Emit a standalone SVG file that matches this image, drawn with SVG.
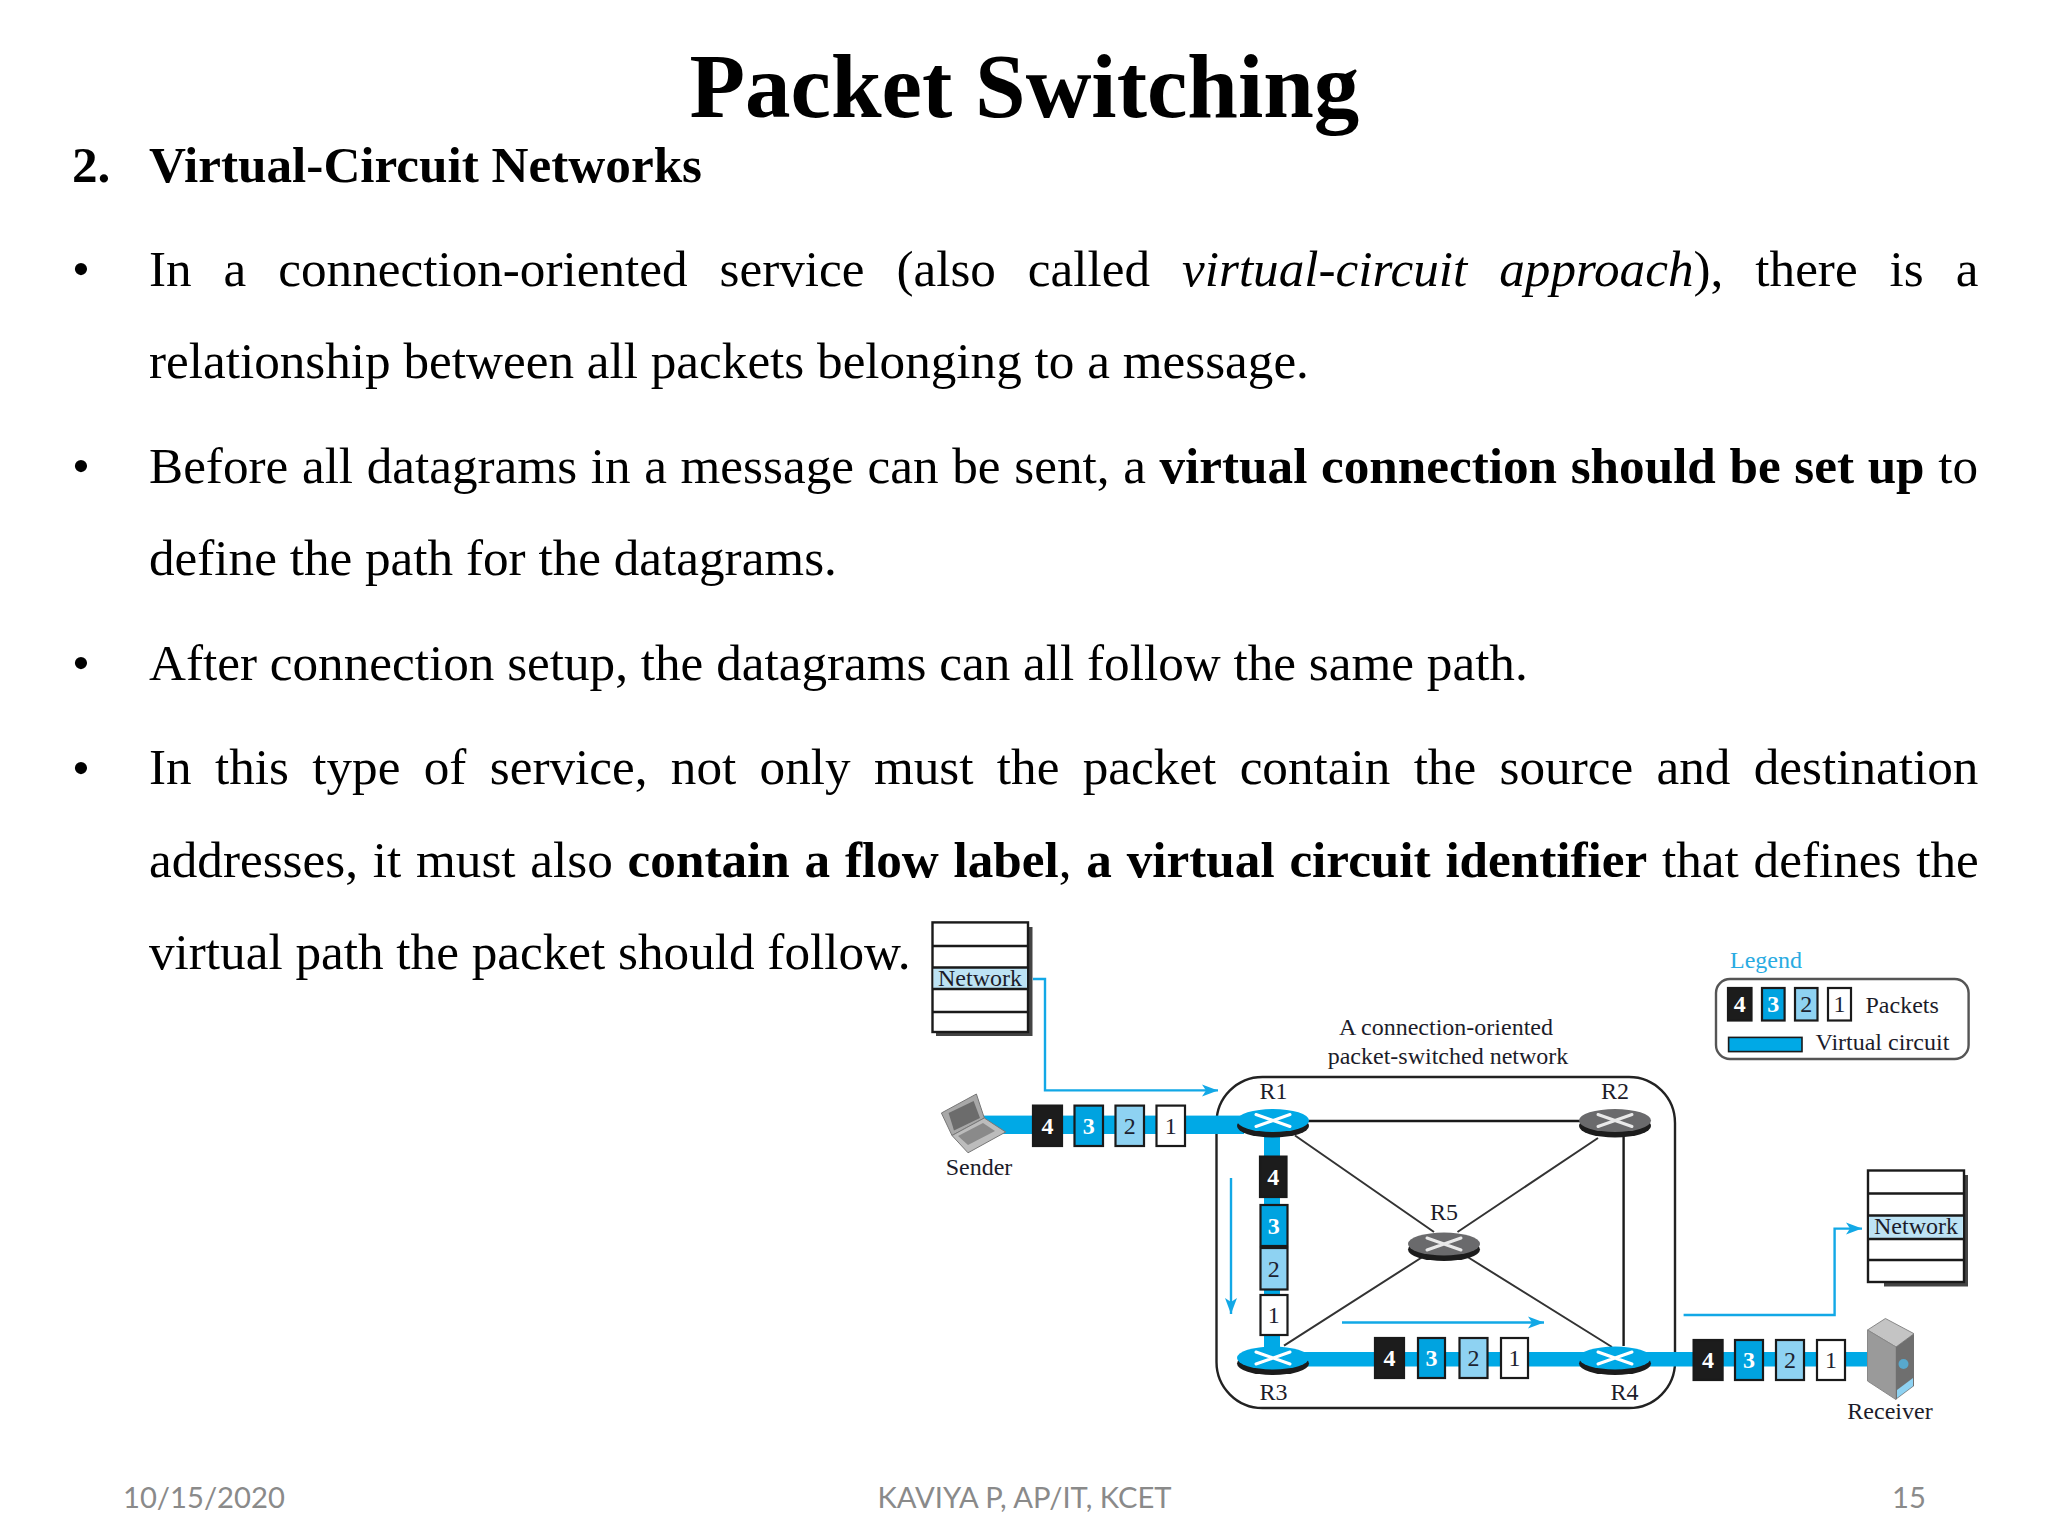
<svg xmlns="http://www.w3.org/2000/svg" width="2048" height="1536" viewBox="0 0 2048 1536">
<style>
text{font-family:"Liberation Serif","Times New Roman",serif;fill:#000}
.b{font-size:51.2px}
.bold{font-weight:bold}
.it{font-style:italic}
.foot{font-family:Lato,"Liberation Sans",sans-serif;font-size:29.2px;fill:#8a8a8a}
.lbl{font-size:24px;fill:#1c1c2a}
.c{text-anchor:middle}
.thin{stroke:#1a1a1a;stroke-width:2.4;fill:none}
.diag{stroke:#333;stroke-width:2;fill:none}
.vc{fill:#00a9e6}
.flow{stroke:#12a8e6;stroke-width:2.4;fill:none}
.pk{stroke:#1a1a1a;stroke-width:2.2}
.p4{fill:#1c1c1c}.p3{fill:#00a3e0}.p2{fill:#8ed2f2}.p1{fill:#fff}
.t4,.t3{fill:#fff;font-weight:bold;font-size:24px;text-anchor:middle}
.t2,.t1{fill:#1c2230;font-size:24px;text-anchor:middle}
.shadow{fill:#444}
.tab{fill:#fff;stroke:#1a1a1a;stroke-width:2.4}
.x{stroke:#fff;stroke-width:3;stroke-linecap:round;fill:none}
</style>
<defs>
<marker id="arr" markerUnits="userSpaceOnUse" markerWidth="18" markerHeight="14" refX="16" refY="7" orient="auto"><path d="M0,1 L16,7 L0,13 L4,7 Z" fill="#12a8e6"/></marker>
<g id="rb"><ellipse cx="0" cy="5.5" rx="36" ry="11.5" fill="#1c1c1c"/><ellipse cx="0" cy="0" rx="36" ry="11.5" fill="#00a9e6"/><path class="x" d="M-17,-6 L17,6 M-17,6 L17,-6"/></g>
<g id="rg"><ellipse cx="0" cy="5.5" rx="36" ry="11.5" fill="#1c1c1c"/><ellipse cx="0" cy="0" rx="36" ry="11.5" fill="#6a6a6c"/><path class="x" d="M-17,-6 L17,6 M-17,6 L17,-6" stroke-opacity=".85"/></g>
</defs>
<rect width="2048" height="1536" fill="#fff"/>

<g id="slide-text">
<text x="689.5" y="117" font-size="91" font-weight="bold">Packet Switching</text>
<text class="b bold" x="72" y="182">2.</text>
<text class="b bold" x="149" y="182">Virtual-Circuit Networks</text>
<text class="b" x="72" y="286">•</text>
<text class="b" x="149" y="286" word-spacing="19.15">In a connection-oriented service (also called <tspan class="it">virtual-circuit approach</tspan>), there is a</text>
<text class="b" x="149" y="378">relationship between all packets belonging to a message.</text>
<text class="b" x="72" y="483">•</text>
<text class="b" x="149" y="483" word-spacing="0.85">Before all datagrams in a message can be sent, a <tspan class="bold">virtual connection should be set up</tspan> to</text>
<text class="b" x="149" y="575">define the path for the datagrams.</text>
<text class="b" x="72" y="680">•</text>
<text class="b" x="149" y="680">After connection setup, the datagrams can all follow the same path.</text>
<text class="b" x="72" y="785">•</text>
<text class="b" x="149" y="784" word-spacing="10.55">In this type of service, not only must the packet contain the source and destination</text>
<text class="b" x="149" y="876.5" word-spacing="2">addresses, it must also <tspan class="bold">contain a flow label</tspan>, <tspan class="bold">a virtual circuit identifier</tspan> that defines the</text>
<text class="b" x="149" y="969">virtual path the packet should follow.</text>
<text class="foot" x="123" y="1508">10/15/2020</text>
<text class="foot c" x="1024.5" y="1508">KAVIYA P, AP/IT, KCET</text>
<text class="foot" x="1892" y="1508">15</text>
</g>

<g id="cloud"><rect x="1216.5" y="1077" width="458.5" height="331" rx="46" ry="46" fill="none" stroke="#222" stroke-width="2.4"/>
<text class="lbl c" x="1446" y="1035">A connection-oriented</text>
<text class="lbl c" x="1448" y="1064">packet-switched network</text></g>

<g id="connectors">
<path class="thin" d="M1300,1121 H1590 M1623.6,1137 V1346"/>
<path class="diag" d="M1295,1135.5 L1434,1232 M1457.5,1232 L1598,1138 M1424,1256 L1284,1345.6 M1466,1256 L1612,1347"/>
<rect class="vc" x="984" y="1115.6" width="260" height="18.4"/>
<rect class="vc" x="1264" y="1130" width="16" height="225"/>
<rect class="vc" x="1300" y="1352" width="569" height="14.5"/>
<path class="flow" d="M1033,979 H1045 V1090.4 H1218" marker-end="url(#arr)"/>
<path class="flow" d="M1231,1178 V1314" marker-end="url(#arr)"/>
<path class="flow" d="M1342,1322.5 H1544" marker-end="url(#arr)"/>
<path class="flow" d="M1683.6,1315 H1834.6 V1228.6 H1862" marker-end="url(#arr)"/>
</g>

<g id="R1"><use href="#rb" x="1273" y="1120.5"/><text class="lbl c" x="1273.6" y="1099">R1</text></g>
<g id="R2"><use href="#rg" x="1615" y="1120.5"/><text class="lbl c" x="1615" y="1099">R2</text></g>
<g id="R3"><use href="#rb" x="1273" y="1358"/><text class="lbl c" x="1273.6" y="1400">R3</text></g>
<g id="R4"><use href="#rb" x="1615" y="1358"/><text class="lbl c" x="1624.6" y="1400">R4</text></g>
<g id="R5"><use href="#rg" x="1444" y="1244"/><text class="lbl c" x="1444" y="1220">R5</text></g>

<g id="packets-sender">
<rect class="pk p4" x="1033" y="1105.6" width="29" height="40.4"/><text class="t4" x="1047.5" y="1134">4</text>
<rect class="pk p3" x="1074.5" y="1105.6" width="28.5" height="40.4"/><text class="t3" x="1088.7" y="1134">3</text>
<rect class="pk p2" x="1115.5" y="1105.6" width="28.5" height="40.4"/><text class="t2" x="1129.7" y="1134">2</text>
<rect class="pk p1" x="1156.5" y="1105.6" width="28.5" height="40.4"/><text class="t1" x="1170.7" y="1134">1</text>
</g>
<g id="packets-r1-r3">
<rect class="pk p4" x="1260" y="1156.6" width="26.5" height="40.4"/><text class="t4" x="1273.2" y="1185">4</text>
<rect class="pk p3" x="1260.5" y="1205" width="27" height="41"/><text class="t3" x="1273.8" y="1234">3</text>
<rect class="pk p2" x="1260.5" y="1248" width="27" height="41.5"/><text class="t2" x="1273.8" y="1277">2</text>
<rect class="pk p1" x="1260.5" y="1295" width="27" height="40"/><text class="t1" x="1273.8" y="1323">1</text>
</g>
<g id="packets-r3-r4">
<rect class="pk p4" x="1375" y="1338" width="29" height="40"/><text class="t4" x="1389.5" y="1366">4</text>
<rect class="pk p3" x="1418" y="1338" width="27" height="40"/><text class="t3" x="1431.5" y="1366">3</text>
<rect class="pk p2" x="1459.5" y="1338" width="28" height="40"/><text class="t2" x="1473.5" y="1366">2</text>
<rect class="pk p1" x="1501" y="1338" width="27" height="40"/><text class="t1" x="1514.5" y="1366">1</text>
</g>
<g id="packets-r4-receiver">
<rect class="pk p4" x="1693.6" y="1340" width="29" height="40"/><text class="t4" x="1708" y="1368">4</text>
<rect class="pk p3" x="1735" y="1340" width="28" height="40"/><text class="t3" x="1749" y="1368">3</text>
<rect class="pk p2" x="1776" y="1340" width="28" height="40"/><text class="t2" x="1790" y="1368">2</text>
<rect class="pk p1" x="1817" y="1340" width="28" height="40"/><text class="t1" x="1831" y="1368">1</text>
</g>

<g id="network-sender">
<path class="shadow" d="M936,927 H1032.5 V1036 H936 Z"/>
<rect class="tab" x="932.5" y="922.4" width="95.5" height="109.6"/>
<rect x="933.5" y="967.5" width="93.5" height="21.5" fill="#bde3f4"/>
<path class="thin" d="M932.5,946 H1028 M932.5,967.5 H1028 M932.5,989 H1028 M932.5,1012 H1028"/>
<text class="lbl c" x="980" y="986">Network</text>
</g>
<g id="network-receiver">
<path class="shadow" d="M1884,1175 H1968 V1286.4 H1884 Z"/>
<rect class="tab" x="1868" y="1170.5" width="96" height="111.5"/>
<rect x="1869" y="1215.5" width="94" height="23.5" fill="#bde3f4"/>
<path class="thin" d="M1868,1193.5 H1964 M1868,1215.5 H1964 M1868,1239 H1964 M1868,1260 H1964"/>
<text class="lbl c" x="1916" y="1234">Network</text>
</g>

<g id="sender">
<polygon points="941.4,1113 976.4,1094 984.3,1118 952,1135.5" fill="#a8a8a8" stroke="#777"/>
<polygon points="948.6,1113 973.6,1101 980,1118 954,1130.4" fill="#6c6c6c"/>
<polygon points="952,1135.5 984.3,1118 1005.7,1132 968,1152.8" fill="#bcbcbc" stroke="#777"/>
<polygon points="958,1136 983,1123 995,1131 968,1145" fill="#8a8a8a"/>
<text class="lbl c" x="979" y="1175">Sender</text>
</g>
<g id="receiver">
<polygon points="1867.5,1330 1885.4,1318.5 1914,1333.7 1896,1347" fill="#c4c4c4" stroke="#888"/>
<polygon points="1867.5,1330 1896,1347 1896,1399.6 1867.5,1381" fill="#9a9a9a" stroke="#888"/>
<polygon points="1896,1347 1914,1333.7 1914,1386 1896,1399.6" fill="#6f6f6f"/>
<circle cx="1903.5" cy="1364" r="5" fill="#58a8cc"/>
<polygon points="1897,1390 1913,1378 1913,1386 1897,1398" fill="#8ed2f2"/>
<text class="lbl c" x="1890" y="1419">Receiver</text>
</g>

<g id="legend">
<text font-size="24" style="fill:#29abe2" x="1730" y="968">Legend</text>
<rect x="1716" y="979" width="252.6" height="80" rx="14" ry="14" fill="#fff" stroke="#555" stroke-width="2.4"/>
<rect class="pk p4" x="1728" y="988" width="23.5" height="32.5"/><text class="t4" x="1739.7" y="1012">4</text>
<rect class="pk p3" x="1762" y="988" width="22.6" height="32.5"/><text class="t3" x="1773.3" y="1012">3</text>
<rect class="pk p2" x="1795" y="988" width="22.5" height="32.5"/><text class="t2" x="1806.2" y="1012">2</text>
<rect class="pk p1" x="1828" y="988" width="23" height="32.5"/><text class="t1" x="1839.5" y="1012">1</text>
<text class="lbl" x="1865.5" y="1013">Packets</text>
<rect class="vc" x="1728.6" y="1037.4" width="73.4" height="14.2" stroke="#1a1a1a" stroke-width="1.6"/>
<text class="lbl" x="1815.5" y="1050">Virtual circuit</text>
</g>
</svg>
